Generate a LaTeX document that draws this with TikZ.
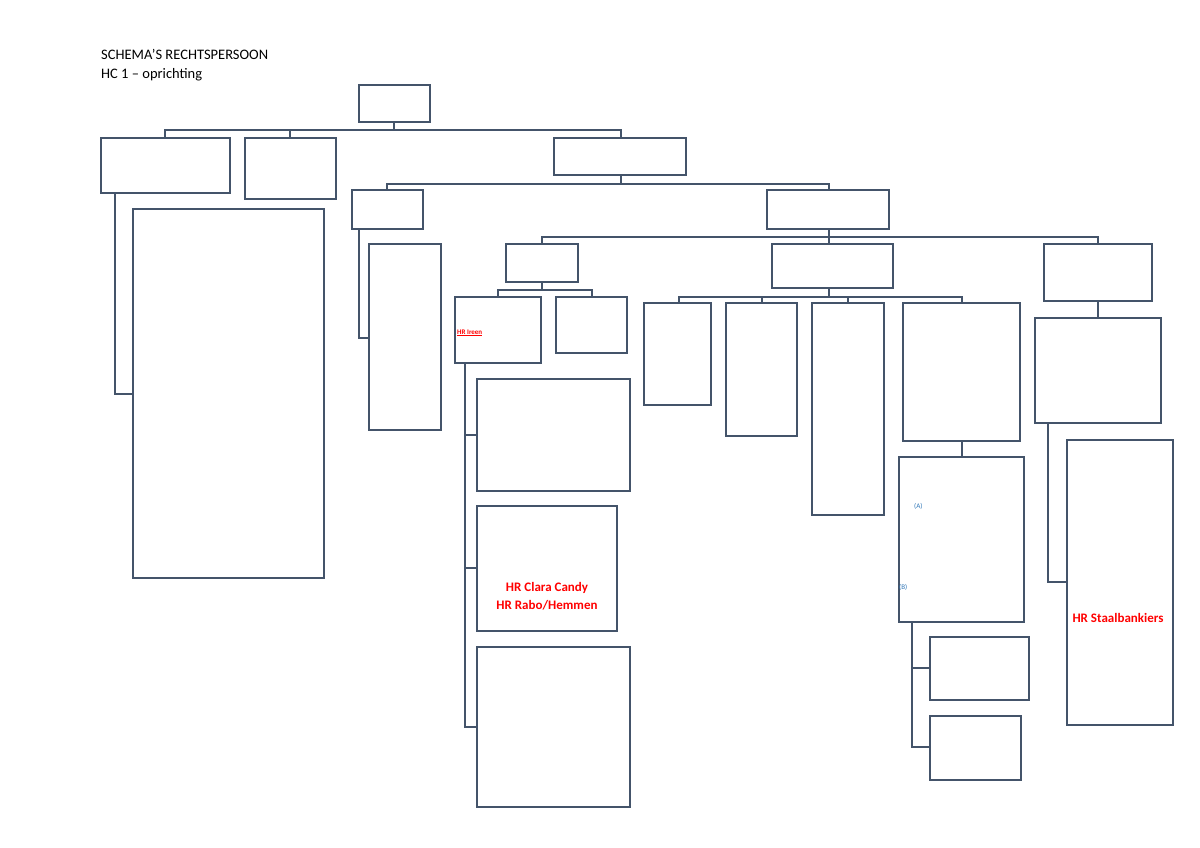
\documentclass[tikz,border=0pt]{standalone}
\usepackage{fontspec}
\setmainfont{Carlito}
\definecolor{ln}{HTML}{44546A}
\definecolor{hr}{HTML}{FF0000}
\definecolor{bl}{HTML}{2E75B6}
\begin{document}
\begin{tikzpicture}[x=1pt,y=-1pt,
  bx/.style={draw=ln,line width=2pt},
  cn/.style={draw=ln,line width=2pt},
  red/.style={text=hr,font=\bfseries\fontsize{13}{15}\selectfont,align=center}]
\useasboundingbox (0,0) rectangle (1200,848);
\node[anchor=west,inner sep=0pt,font=\fontsize{14.5}{17}\selectfont] (t1) at (101,54) {SCHEMA’S RECHTSPERSOON};
\node[anchor=west,inner sep=0pt,font=\fontsize{14.5}{17}\selectfont] (t2) at (101,75) {HC 1 – oprichting};
\newcommand{\bxx}[5]{\draw[bx] (#2,#3) rectangle (#4,#5); \coordinate (#1) at ({(#2+#4)/2},{(#3+#5)/2});}
\bxx{root}{359}{85}{430}{122}
\bxx{A}{101}{138}{230}{193}
\bxx{B}{245}{138}{336}{199}
\bxx{C}{554}{138}{686}{175}
\bxx{Abig}{133}{209}{324}{578}
\bxx{D}{352}{190}{423}{229}
\bxx{Dbig}{369}{244}{441}{430}
\bxx{E}{767}{190}{889}{229}
\bxx{F}{506}{244}{578}{282}
\bxx{G}{772}{244}{893}{288}
\bxx{H}{1044}{244}{1152}{301}
\bxx{Fa}{455}{297}{541}{363}
\bxx{Fb}{556}{297}{627}{353}
\bxx{La}{477}{379}{630}{491}
\bxx{Lb}{477}{506}{617}{631}
\bxx{Lc}{477}{647}{630}{807}
\bxx{Ga}{644}{303}{711}{405}
\bxx{Gb}{726}{303}{797}{436}
\bxx{Gc}{812}{303}{884}{515}
\bxx{Gd}{903}{303}{1020}{441}
\bxx{Ge}{899}{457}{1024}{622}
\bxx{Gf}{930}{637}{1029}{700}
\bxx{Gg}{930}{716}{1021}{780}
\bxx{Ha}{1035}{318}{1161}{423}
\bxx{Hb}{1067}{440}{1173}{725}
% trees
\draw[cn] (394,122)--(394,130) (165,138)--(165,130)--(621,130)--(621,138) (290,130)--(290,138);
\draw[cn] (621,175)--(621,184) (387,190)--(387,184)--(829,184)--(829,190);
\draw[cn] (829,229)--(829,237) (542,244)--(542,237)--(1098,237)--(1098,244) (829,237)--(829,244);
\draw[cn] (542,282)--(542,290) (498,297)--(498,290)--(592,290)--(592,297);
\draw[cn] (829,288)--(829,297) (679,303)--(679,297)--(962,297)--(962,303) (762,297)--(762,303) (848,297)--(848,303);
\draw[cn] (1098,301)--(1098,318);
\draw[cn] (962,441)--(962,457);
\draw[cn] (115,193)--(115,394)--(133,394);
\draw[cn] (359,229)--(359,338)--(369,338);
\draw[cn] (465,363)--(465,727)--(477,727) (465,435)--(477,435) (465,568)--(477,568);
\draw[cn] (912,622)--(912,747)--(930,747) (912,668)--(930,668);
\draw[cn] (1048,423)--(1048,582)--(1067,582);
% texts
\node[anchor=west,inner sep=0pt,text=hr,font=\bfseries\fontsize{7}{8}\selectfont] (ir) at (457,333) {\underline{HR Ireen}};
\node[red] (cc) at (547,596) {HR Clara Candy\\[3pt]HR Rabo/Hemmen};
\node[red] (st) at (1118,618) {HR Staalbankiers};
\node[anchor=west,inner sep=0pt,text=bl,font=\fontsize{7}{8}\selectfont] (a) at (914,506) {(A)};
\node[anchor=west,inner sep=0pt,text=bl,font=\fontsize{7}{8}\selectfont] (b) at (899,587) {(B)};
\end{tikzpicture}
\end{document}
